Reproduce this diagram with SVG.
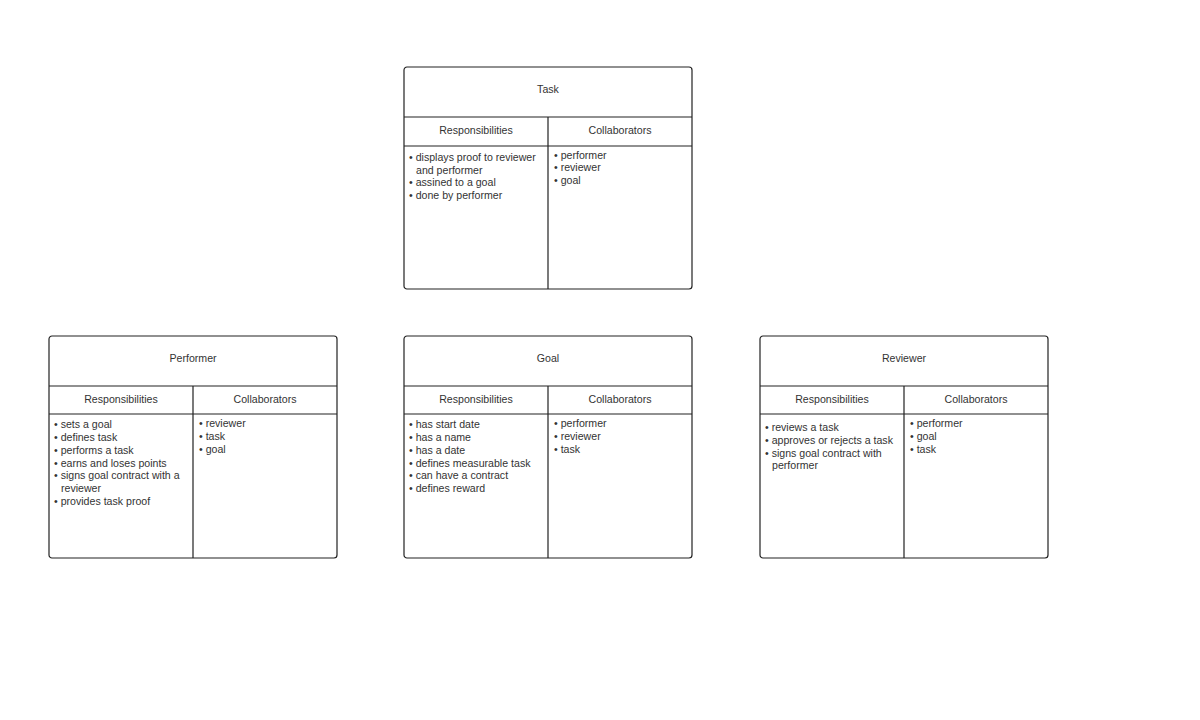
<svg xmlns="http://www.w3.org/2000/svg" width="1200" height="720" viewBox="0 0 1200 720">
<style>
.box{fill:#fff;stroke:#222;stroke-width:1.2}
.ln{stroke:#222;stroke-width:1.2;fill:none}
text{font-family:"Liberation Sans",Arial,sans-serif;font-size:10.6px;fill:#333}
.c{text-anchor:middle}
</style>
<rect width="1200" height="720" fill="#fff"/>
<g id="task" transform="translate(404,67)">
<rect class="box" x="0" y="0" width="288" height="222" rx="3"/>
<path class="ln" d="M0 50H288M0 79H288M144 50V222"/>
<text class="c" x="144" y="26">Task</text>
<text class="c" x="72" y="67">Responsibilities</text>
<text class="c" x="216" y="67">Collaborators</text>
<text x="5" y="94">• displays proof to reviewer</text>
<text x="12" y="107">and performer</text>
<text x="5" y="119">• assined to a goal</text>
<text x="5" y="132">• done by performer</text>
<text x="150" y="92">• performer</text>
<text x="150" y="104">• reviewer</text>
<text x="150" y="117">• goal</text>
</g>
<g id="performer" transform="translate(49,336)">
<rect class="box" x="0" y="0" width="288" height="222" rx="3"/>
<path class="ln" d="M0 50H288M0 78H288M144 50V222"/>
<text class="c" x="144" y="26">Performer</text>
<text class="c" x="72" y="67">Responsibilities</text>
<text class="c" x="216" y="67">Collaborators</text>
<text x="5" y="92">• sets a goal</text>
<text x="5" y="105">• defines task</text>
<text x="5" y="118">• performs a task</text>
<text x="5" y="131">• earns and loses points</text>
<text x="5" y="143">• signs goal contract with a</text>
<text x="12" y="156">reviewer</text>
<text x="5" y="169">• provides task proof</text>
<text x="150" y="91">• reviewer</text>
<text x="150" y="104">• task</text>
<text x="150" y="117">• goal</text>
</g>
<g id="goal" transform="translate(404,336)">
<rect class="box" x="0" y="0" width="288" height="222" rx="3"/>
<path class="ln" d="M0 50H288M0 78H288M144 50V222"/>
<text class="c" x="144" y="26">Goal</text>
<text class="c" x="72" y="67">Responsibilities</text>
<text class="c" x="216" y="67">Collaborators</text>
<text x="5" y="92">• has start date</text>
<text x="5" y="105">• has a name</text>
<text x="5" y="118">• has a date</text>
<text x="5" y="131">• defines measurable task</text>
<text x="5" y="143">• can have a contract</text>
<text x="5" y="156">• defines reward</text>
<text x="150" y="91">• performer</text>
<text x="150" y="104">• reviewer</text>
<text x="150" y="117">• task</text>
</g>
<g id="reviewer" transform="translate(760,336)">
<rect class="box" x="0" y="0" width="288" height="222" rx="3"/>
<path class="ln" d="M0 50H288M0 78H288M144 50V222"/>
<text class="c" x="144" y="26">Reviewer</text>
<text class="c" x="72" y="67">Responsibilities</text>
<text class="c" x="216" y="67">Collaborators</text>
<text x="5" y="95">• reviews a task</text>
<text x="5" y="108">• approves or rejects a task</text>
<text x="5" y="121">• signs goal contract with</text>
<text x="12" y="133">performer</text>
<text x="150" y="91">• performer</text>
<text x="150" y="104">• goal</text>
<text x="150" y="117">• task</text>
</g>
<g id="connectors"></g>
</svg>
